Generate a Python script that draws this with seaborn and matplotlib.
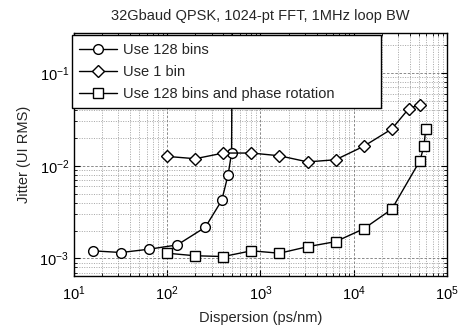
import matplotlib
matplotlib.use("Agg")
import matplotlib.pyplot as plt
import seaborn as sns
import pandas as pd
import numpy as np
from matplotlib.ticker import LogLocator, NullFormatter

# Data
x_128 = [16, 32, 64, 128, 256, 384, 450, 490, 500]
y_128 = [1.21e-3, 1.16e-3, 1.26e-3, 1.40e-3, 2.17e-3, 4.22e-3, 8.0e-3, 1.37e-2, 1.0]

x_1 = [100, 200, 400, 800, 1600, 3200, 6400, 12800, 25600, 39000, 51200]
y_1 = [1.26e-2, 1.19e-2, 1.37e-2, 1.37e-2, 1.28e-2, 1.10e-2, 1.16e-2, 1.62e-2, 2.49e-2, 4.13e-2, 4.56e-2]

x_rot = [100, 200, 400, 800, 1600, 3200, 6400, 12800, 25600, 51200, 56600, 59200]
y_rot = [1.14e-3, 1.07e-3, 1.05e-3, 1.21e-3, 1.14e-3, 1.34e-3, 1.52e-3, 2.09e-3, 3.40e-3, 1.13e-2, 1.62e-2, 2.51e-2]

labels = ["Use 128 bins", "Use 1 bin", "Use 128 bins and phase rotation"]
title = "32Gbaud QPSK, 1024-pt FFT, 1MHz loop BW"
xlabel = "Dispersion (ps/nm)"
ylabel = "Jitter (UI RMS)"

sns.set_theme(style="white")
plt.rcParams['font.family'] = ['Liberation Sans', 'DejaVu Sans']
plt.rcParams['mathtext.fontset'] = 'custom'
plt.rcParams['mathtext.rm'] = 'Liberation Sans'
plt.rcParams['mathtext.it'] = 'Liberation Sans'

fig = plt.figure(figsize=(4.74, 3.36), dpi=100)
ax = fig.add_axes([0.156, 0.179, 0.787, 0.723])

series = [(x_128, y_128, "o", 7), (x_1, y_1, "D", 6), (x_rot, y_rot, "s", 6.5)]
handles = []
for (xs, ys, m, ms), lab in zip(series, labels):
    df = pd.DataFrame({"x": xs, "y": ys})
    sns.lineplot(data=df, x="x", y="y", ax=ax, estimator=None, sort=False,
                 color="black", linewidth=1.0, marker=m, markersize=ms,
                 markerfacecolor="white", markeredgecolor="black",
                 markeredgewidth=1.0, label=lab, legend=False)
    handles.append(ax.lines[-1])

ax.set_xscale("log")
ax.set_yscale("log")
ax.set_xlim(10, 1e5)
ax.set_ylim(6.5e-4, 0.27)

ax.xaxis.set_major_locator(LogLocator(base=10, numticks=10))
ax.xaxis.set_minor_locator(LogLocator(base=10, subs=np.arange(2, 10), numticks=20))
ax.yaxis.set_major_locator(LogLocator(base=10, numticks=10))
ax.yaxis.set_minor_locator(LogLocator(base=10, subs=np.arange(2, 10), numticks=20))
ax.xaxis.set_minor_formatter(NullFormatter())
ax.yaxis.set_minor_formatter(NullFormatter())

ax.grid(True, which="major", linestyle=(0, (3, 2)), color="#777777", linewidth=0.6)
ax.grid(True, which="minor", linestyle=(0, (1.5, 2)), color="#888888", linewidth=0.5)

ax.tick_params(which="both", direction="in", top=True, right=True, bottom=True, left=True,
               colors="black", labelsize=10.5)
ax.tick_params(which="major", length=4, width=0.8)
ax.tick_params(which="minor", length=2, width=0.6)
ax.tick_params(axis="x", pad=6)
for s in ax.spines.values():
    s.set_color("black")
    s.set_linewidth(1.0)

ax.set_title(title, fontsize=10.5, pad=9)
ax.set_xlabel(xlabel, fontsize=10.5, labelpad=6)
ax.set_ylabel(ylabel, fontsize=10.5, labelpad=6)

leg = ax.legend(handles=handles, labels=labels, loc="upper left",
                bbox_to_anchor=(-0.005, 0.99, 0.828, 0.0), mode="expand",
                frameon=True, fancybox=False,
                framealpha=1, edgecolor="black", fontsize=10.5, handlelength=2.6,
                labelspacing=0.55, borderpad=0.5, handletextpad=0.4, borderaxespad=0.0)
leg.get_frame().set_linewidth(1.0)
leg.set_zorder(10)

fig.savefig("out.png", dpi=100)
